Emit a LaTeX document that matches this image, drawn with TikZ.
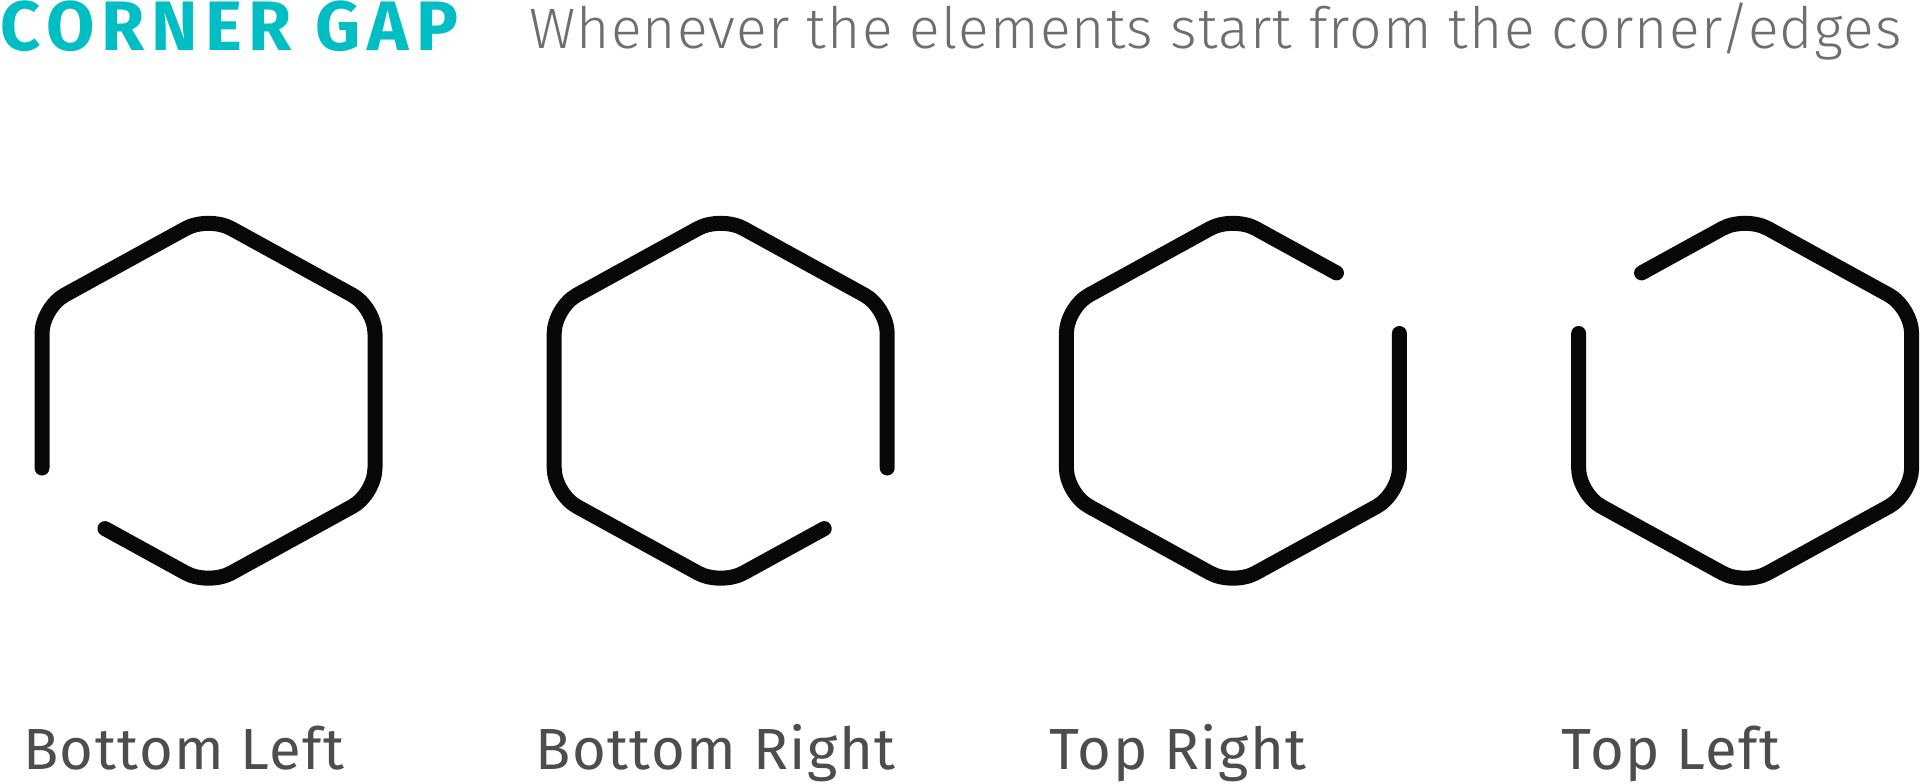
\documentclass[tikz,border=0pt]{standalone}
\usepackage{fontspec}
\setmainfont{Fira Sans}
\newfontfamily\lightfont{Fira Sans Light}[LetterSpace=2.1]
\newfontfamily\labelfont{Fira Sans}[LetterSpace=2.5]
\usetikzlibrary{calc,positioning}

\definecolor{gapteal}{HTML}{00BEC4}
\definecolor{subgray}{HTML}{6E6E6E}
\definecolor{labelgray}{HTML}{4D4D4D}

\begin{document}
\begin{tikzpicture}[
                        x = 1pt,
                        y = -1pt,
                        line join = round
                        ]

                        \tikzstyle{hexline}=[
                                draw = black!97,
                                line width = 15pt,
                                line cap = round,
                                rounded corners = 26pt
                        ]
                        \tikzstyle{caption}=[
                                anchor = base west,
                                inner sep = 0pt,
                                text = labelgray,
                                font = \fontsize{58}{60}\labelfont
                        ]

                        \useasboundingbox (0,0) rectangle (1920,784);

                        % heading
                        \node[anchor=base west, inner sep=0pt, text=gapteal,
                              font=\fontsize{70}{72}\selectfont\bfseries\addfontfeatures{LetterSpace=10}]
                              (title) at (0,51) {CORNER GAP};
                        \node[anchor=base west, inner sep=0pt, text=subgray,
                              font=\fontsize{57}{60}\lightfont] (subtitle) at (529,49)
                              {Whenever the elements start from the corner/edges};

                        % corners of the four hexagons
                        \foreach \h/\cx in {bl/208.5, br/720.7, tr/1232.9, tl/1745.1} {
                                \coordinate (\h-t)  at (\cx, 216);
                                \coordinate (\h-ur) at (\cx+166.5, 307.5);
                                \coordinate (\h-lr) at (\cx+166.5, 494);
                                \coordinate (\h-b)  at (\cx, 585.5);
                                \coordinate (\h-ll) at (\cx-166.5, 494);
                                \coordinate (\h-ul) at (\cx-166.5, 307.5);
                        }

                        \draw[hexline] ($(bl-ll)!0.378!(bl-b)$) -- (bl-b) -- (bl-lr) -- (bl-ur)
                                -- (bl-t) -- (bl-ul) -- ($(bl-ll)+(0,-26)$);
                        \draw[hexline] ($(br-lr)!0.378!(br-b)$) -- (br-b) -- (br-ll) -- (br-ul)
                                -- (br-t) -- (br-ur) -- ($(br-lr)+(0,-26)$);
                        \draw[hexline] ($(tr-ur)!0.378!(tr-t)$) -- (tr-t) -- (tr-ul) -- (tr-ll)
                                -- (tr-b) -- (tr-lr) -- ($(tr-ur)+(0,26)$);
                        \draw[hexline] ($(tl-ul)!0.378!(tl-t)$) -- (tl-t) -- (tl-ur) -- (tl-lr)
                                -- (tl-b) -- (tl-ll) -- ($(tl-ul)+(0,26)$);

                        % names under the hexagons
                        \node[caption] (bl-name) at ($(bl-ll)+(-19,275)$) {Bottom Left};
                        \node[caption] (br-name) at ($(br-ll)+(-19,275)$) {Bottom Right};
                        \node[caption] (tr-name) at ($(tr-ll)+(-17,275)$) {Top Right};
                        \node[caption] (tl-name) at ($(tl-ll)+(-17,275)$) {Top Left};
\end{tikzpicture}
\end{document}
